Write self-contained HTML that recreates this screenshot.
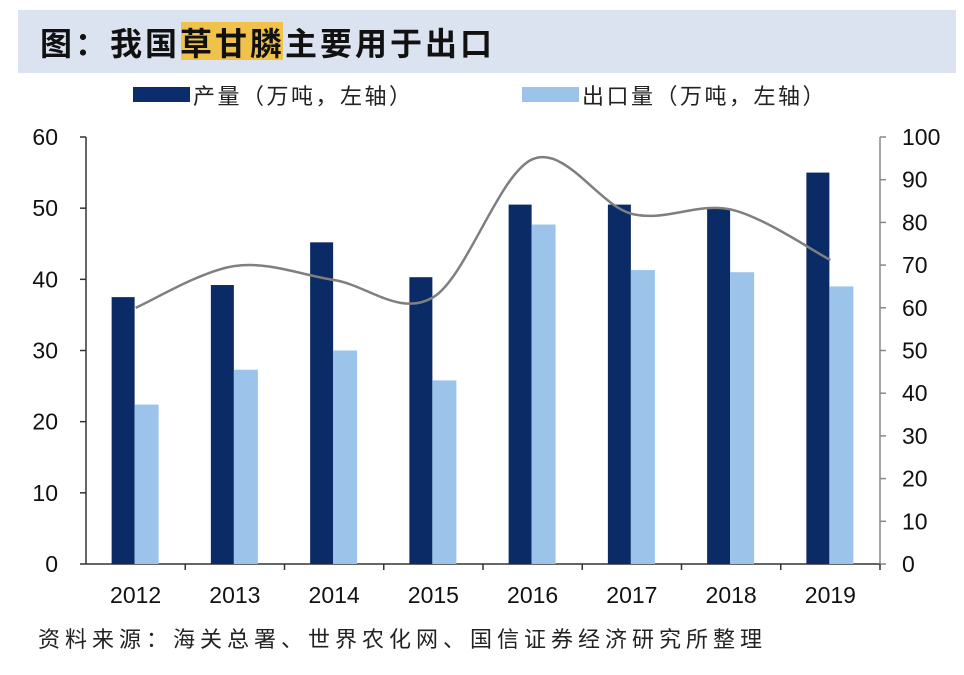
<!DOCTYPE html>
<html><head><meta charset="utf-8"><style>
body{margin:0;background:#fff;width:964px;height:670px;overflow:hidden;font-family:"Liberation Sans","Noto Sans CJK SC",sans-serif}
svg text{font-family:"Liberation Sans","Noto Sans CJK SC",sans-serif}
</style></head><body>
<svg id="c" width="964" height="670">
<rect x="18" y="10" width="938" height="63" fill="#dce3f0"/>
<rect x="181" y="22" width="102" height="38" fill="#f0c24a"/>
<text x="40" y="55" font-size="32" font-weight="bold" letter-spacing="3" fill="#111">图：我国草甘膦主要用于出口</text>
<rect x="133" y="87" width="57" height="15" fill="#0b2d6b"/>
<text x="193" y="104" font-size="22" letter-spacing="2.5" fill="#222">产量（万吨，左轴）</text>
<rect x="522" y="87" width="57" height="15" fill="#9cc3ea"/>
<text x="582" y="104" font-size="22" letter-spacing="2.5" fill="#222">出口量（万吨，左轴）</text>
<text x="38" y="647" font-size="22" letter-spacing="5" fill="#222">资料来源：海关总署、世界农化网、国信证券经济研究所整理</text>
<g id="g"></g>
</svg>
<script>
const years=["2012","2013","2014","2015","2016","2017","2018","2019"];
const production=[37.5,39.2,45.2,40.3,50.5,50.5,50,55];
const exportVol=[22.4,27.3,30,25.8,47.7,41.3,41,39];
const ratio=[60,69.8,66.5,62.5,94.8,82,83,71.2];
const leftTicks=[0,10,20,30,40,50,60];
const rightTicks=[0,10,20,30,40,50,60,70,80,90,100];
const NS="http://www.w3.org/2000/svg",g=document.getElementById('g');
const X0=86,X1=880,Y0=564,Y1=137;
const bw=(X1-X0)/years.length;
const xc=i=>X0+bw*(i+0.5);
const yl=v=>Y0-(v/60)*(Y0-Y1);
const yr=v=>Y0-(v/100)*(Y0-Y1);
function mk(t,a){const e=document.createElementNS(NS,t);for(const k in a)e.setAttribute(k,a[k]);g.appendChild(e);return e;}
let e;
e=mk('line',{x1:X0,y1:Y1,x2:X0,y2:Y0,stroke:'#333','stroke-width':1.5});

e=mk('line',{x1:X0,y1:Y0,x2:X1,y2:Y0,stroke:'#333','stroke-width':1.5});

e=mk('line',{x1:X1,y1:Y1,x2:X1,y2:Y0,stroke:'#888','stroke-width':1.5});

leftTicks.forEach(v=>{
 e=mk('line',{x1:X0-6,y1:yl(v),x2:X0,y2:yl(v),stroke:'#333','stroke-width':1.5});
 
 e=mk('text',{x:X0-28,y:yl(v)+8,'font-size':23,'text-anchor':'end',fill:'#111'});e.textContent=v;
 
});
rightTicks.forEach(v=>{
 e=mk('line',{x1:X1,y1:yr(v),x2:X1+6,y2:yr(v),stroke:'#888','stroke-width':1.5});
 
 e=mk('text',{x:X1+22,y:yr(v)+8,'font-size':23,fill:'#111'});e.textContent=v;
 
});
years.forEach((y,i)=>{
 e=mk('line',{x1:X0+bw*(i+1),y1:Y0,x2:X0+bw*(i+1),y2:Y0+6,stroke:'#333','stroke-width':1.5});
 
 e=mk('rect',{x:xc(i)-24,y:yl(production[i]),width:23,height:Y0-yl(production[i]),fill:'#0a2b66'});
 
 e=mk('rect',{x:xc(i)-1,y:yl(exportVol[i]),width:24,height:Y0-yl(exportVol[i]),fill:'#9cc3ea'});
 
 e=mk('text',{x:xc(i),y:603,'font-size':23,'text-anchor':'middle',fill:'#111'});e.textContent=y;
 
});
const P=ratio.map((v,i)=>[xc(i),yr(v)]);
let d='M'+P[0][0]+','+P[0][1];
for(let i=0;i<P.length-1;i++){
 const p0=P[i-1]||P[i],p1=P[i],p2=P[i+1],p3=P[i+2]||p2;
 d+=` C${p1[0]+(p2[0]-p0[0])/6},${p1[1]+(p2[1]-p0[1])/6} ${p2[0]-(p3[0]-p1[0])/6},${p2[1]-(p3[1]-p1[1])/6} ${p2[0]},${p2[1]}`;
}
e=mk('path',{d:d,fill:'none',stroke:'#7f7f7f','stroke-width':2.5});

</script>
</body></html>
